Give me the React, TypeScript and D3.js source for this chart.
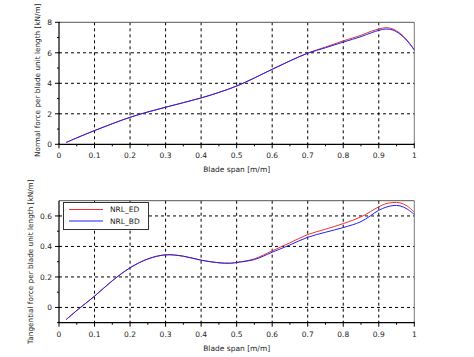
import React from "react";
import * as d3 from "d3";

const spanTop = [0.02, 0.05, 0.1, 0.15, 0.2, 0.25, 0.3, 0.35, 0.4, 0.45, 0.5, 0.55, 0.6, 0.65, 0.7, 0.75, 0.8, 0.85, 0.88, 0.9, 0.92, 0.94, 0.96, 0.98, 1.0];
const normalED = [0.12, 0.42, 0.9, 1.35, 1.77, 2.12, 2.43, 2.73, 3.04, 3.4, 3.82, 4.35, 4.92, 5.47, 5.98, 6.38, 6.78, 7.15, 7.42, 7.56, 7.65, 7.56, 7.28, 6.82, 6.2];
const normalBD = [0.12, 0.42, 0.9, 1.35, 1.77, 2.12, 2.43, 2.73, 3.04, 3.4, 3.82, 4.35, 4.92, 5.47, 5.97, 6.33, 6.7, 7.06, 7.32, 7.47, 7.56, 7.49, 7.22, 6.78, 6.18];

const spanBot = [0.02, 0.05, 0.1, 0.15, 0.2, 0.25, 0.3, 0.35, 0.4, 0.45, 0.48, 0.5, 0.55, 0.6, 0.65, 0.7, 0.75, 0.8, 0.85, 0.9, 0.92, 0.94, 0.96, 0.98, 1.0];
const tangED = [-0.08, -0.02, 0.074, 0.175, 0.26, 0.318, 0.345, 0.336, 0.31, 0.293, 0.29, 0.295, 0.319, 0.371, 0.424, 0.478, 0.513, 0.55, 0.594, 0.66, 0.68, 0.688, 0.686, 0.665, 0.625];
const tangBD = [-0.08, -0.02, 0.074, 0.175, 0.26, 0.318, 0.345, 0.336, 0.31, 0.293, 0.29, 0.295, 0.314, 0.362, 0.41, 0.46, 0.493, 0.524, 0.563, 0.637, 0.657, 0.668, 0.666, 0.645, 0.61];

const xTicks = [0, 0.1, 0.2, 0.3, 0.4, 0.5, 0.6, 0.7, 0.8, 0.9, 1];
const xMinor = [0.05, 0.15, 0.25, 0.35, 0.45, 0.55, 0.65, 0.75, 0.85, 0.95];
const topYTicks = [0, 2, 4, 6, 8];
const topYMinor = [1, 3, 5, 7];
const botYTicks = [0, 0.2, 0.4, 0.6];
const botYMinor = [-0.1, 0.1, 0.3, 0.5];
const seriesNames = ["NRL_ED", "NRL_BD"];
const colors = ["#f03030", "#2020f0"];

const FONT = "DejaVu Sans, sans-serif";
const X0 = 59;
const X1 = 414.3;

type PanelProps = {
  top: number;
  bottom: number;
  yDomain: [number, number];
  yTicks: number[];
  yMinor: number[];
  fmt: (v: number) => string;
  xs: number[];
  ed: number[];
  bd: number[];
  yTitle: string;
  yTitleX: number;
  yTitleShift: number;
  legend?: boolean;
};

function Panel(p: PanelProps) {
  const x = d3.scaleLinear().domain([0, 1]).range([X0, X1]);
  const y = d3.scaleLinear().domain(p.yDomain).range([p.bottom, p.top]);
  const line = (vals: number[]) =>
    d3
      .line<number>()
      .x((_, i) => x(p.xs[i]))
      .y((v) => y(v))
      .curve(d3.curveCatmullRom.alpha(0.5))(vals) || "";
  const midY = (p.top + p.bottom) / 2 + p.yTitleShift;
  return (
    <g>
      {xTicks.slice(1, -1).map((t) => (
        <line key={"gx" + t} x1={x(t)} x2={x(t)} y1={p.top} y2={p.bottom} stroke="#000" strokeWidth={1} strokeDasharray="3,3" />
      ))}
      {p.yTicks
        .filter((t) => y(t) > p.top + 1 && y(t) < p.bottom - 1)
        .map((t) => (
          <line key={"gy" + t} x1={X0} x2={X1} y1={y(t)} y2={y(t)} stroke="#000" strokeWidth={1} strokeDasharray="3,3" />
        ))}
      <line x1={X0} x2={X1} y1={p.top} y2={p.top} stroke="#555" strokeWidth={1} />
      <line x1={X1} x2={X1} y1={p.top} y2={p.bottom} stroke="#777" strokeWidth={1} />
      <path d={line(p.ed)} fill="none" stroke={colors[0]} strokeWidth={1} />
      <path d={line(p.bd)} fill="none" stroke={colors[1]} strokeWidth={1} />
      <line x1={X0} x2={X1} y1={p.bottom} y2={p.bottom} stroke="#000" strokeWidth={1.2} />
      <line x1={X0} x2={X0} y1={p.top} y2={p.bottom} stroke="#000" strokeWidth={1.2} />
      {xTicks.map((t) => (
        <g key={"xt" + t}>
          <line x1={x(t)} x2={x(t)} y1={p.bottom - 1} y2={p.bottom + 4} stroke="#000" />
          <text x={x(t)} y={p.bottom + 14} textAnchor="middle" fontSize={7.5} fontFamily={FONT} fill="#222">
            {d3.format("~g")(t)}
          </text>
        </g>
      ))}
      {xMinor.map((t) => (
        <line key={"xm" + t} x1={x(t)} x2={x(t)} y1={p.bottom} y2={p.bottom + 2} stroke="#000" />
      ))}
      {p.yTicks.map((t) => (
        <g key={"yt" + t}>
          <line x1={X0 - 4} x2={X0 + 1} y1={y(t)} y2={y(t)} stroke="#000" />
          <text x={X0 - 7} y={y(t) + 2.8} textAnchor="end" fontSize={7.5} fontFamily={FONT} fill="#222">
            {p.fmt(t)}
          </text>
        </g>
      ))}
      {p.yMinor.map((t) => (
        <line key={"ym" + t} x1={X0 - 2} x2={X0} y1={y(t)} y2={y(t)} stroke="#000" />
      ))}
      <text x={(X0 + X1) / 2} y={p.bottom + 28} textAnchor="middle" fontSize={7.5} fontFamily={FONT} fill="#222">
        Blade span [m/m]
      </text>
      <text
        transform={`translate(${p.yTitleX},${midY}) rotate(-90)`}
        textAnchor="middle"
        fontSize={7.3}
        fontFamily={FONT}
        fill="#222"
      >
        {p.yTitle}
      </text>
      {p.legend && (
        <g>
          <rect x={63.5} y={202.5} width={85} height={27} fill="#fff" stroke="#333" strokeWidth={1} />
          {seriesNames.map((n, i) => (
            <g key={n}>
              <line x1={69} x2={103} y1={209.5 + i * 11.5} y2={209.5 + i * 11.5} stroke={colors[i]} strokeWidth={1} />
              <text x={110} y={212.3 + i * 11.5} fontSize={7.5} fontFamily={FONT} fill="#222">
                {n}
              </text>
            </g>
          ))}
        </g>
      )}
    </g>
  );
}

export default function App() {
  return (
    <svg width={474} height={357} style={{ position: "absolute", left: 0, top: 0, background: "#fff" }}>
      <rect width={474} height={357} fill="#fff" />
      <Panel
        top={22.3}
        bottom={144.3}
        yDomain={[0, 8]}
        yTicks={topYTicks}
        yMinor={topYMinor}
        fmt={(v) => d3.format("~g")(v)}
        xs={spanTop}
        ed={normalED}
        bd={normalBD}
        yTitle="Normal force per blade unit length [kN/m]"
        yTitleX={39.5}
        yTitleShift={-3}
      />
      <Panel
        top={200.7}
        bottom={322.7}
        yDomain={[-0.1, 0.7]}
        yTicks={botYTicks}
        yMinor={botYMinor}
        fmt={(v) => d3.format("~g")(v)}
        xs={spanBot}
        ed={tangED}
        bd={tangBD}
        yTitle="Tangential force per blade unit length [kN/m]"
        yTitleX={32.5}
        yTitleShift={0}
        legend
      />
    </svg>
  );
}
